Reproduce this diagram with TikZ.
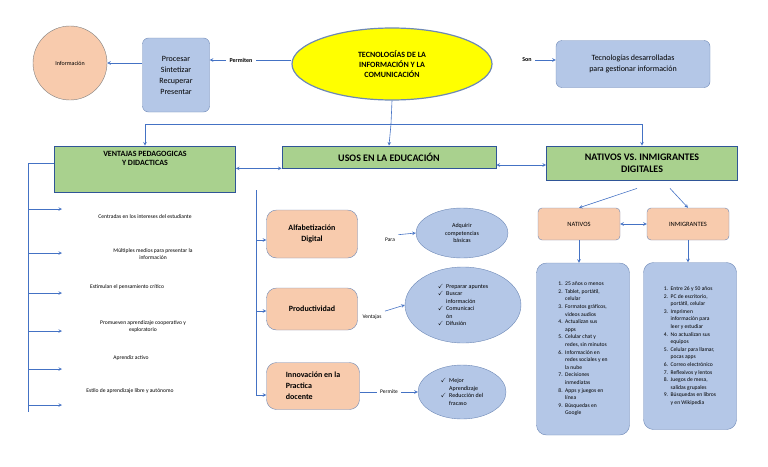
\documentclass[tikz,border=0pt]{standalone}
\usepackage{amssymb}
\usepackage{fontspec}
\setmainfont{Carlito}
\usepackage{tikz}
\usetikzlibrary{shapes.geometric, arrows}
\definecolor{salmon}{HTML}{F8CBAD}
\definecolor{lblue}{HTML}{B4C7E7}
\definecolor{green}{HTML}{A9D18E}
\definecolor{yellow}{HTML}{FFFF00}
\definecolor{line}{HTML}{4472C4}
\definecolor{dblue}{HTML}{2F5597}
\tikzstyle{title} = [rectangle, 
draw=dblue, thick,
fill=green!100,
font=\bfseries\fontsize{8}{9}\selectfont,
align=center]
\tikzstyle{process} = [rectangle, 
rounded corners=6pt,
draw=dblue!70,
fill=lblue!100,
align=center]
\tikzstyle{uso} = [rectangle, 
rounded corners=10pt,
draw=dblue!70,
fill=salmon!100,
font=\bfseries\fontsize{8}{11}\selectfont,
align=center]
\tikzstyle{oval} = [ellipse, 
draw=dblue!70,
fill=lblue!100,
align=left,
inner sep=1pt,
font=\fontsize{6}{7.5}\selectfont]
\tikzstyle{item} = [font=\fontsize{5.6}{7}\selectfont, align=center]
\tikzstyle{lab} = [font=\fontsize{5.5}{6}\selectfont]
\tikzstyle{arrow} = [line, semithick, ->, >=stealth]
\tikzstyle{darrow} = [line, semithick, <->, >=stealth]

\begin{document}
\begin{tikzpicture}[x=1pt, y=-1pt]
\useasboundingbox (0,0) rectangle (768,466);
\node (info) [circle, minimum size=74pt, draw=gray, fill=salmon!100, font=\fontsize{6}{7}\selectfont] at (70,63) {Información};
\node (proc) [process, minimum width=67pt, minimum height=74pt, font=\fontsize{8}{11}\selectfont] at (176,75) {Procesar\\Sintetizar\\Recuperar\\Presentar};
\node (tic) [ellipse, draw=dblue!70, line width=1.2pt, fill=yellow!100, minimum width=200pt, minimum height=72pt, font=\bfseries\fontsize{8}{10}\selectfont, align=center] at (392,64) {TECNOLOGÍAS DE LA\\INFORMACIÓN Y LA\\COMUNICACIÓN};
\node (desa) [process, minimum width=154pt, minimum height=47pt, font=\fontsize{8}{11}\selectfont] at (633,64) {Tecnologías desarrolladas\\para gestionar información};
\node (permiten) [lab, font=\bfseries\fontsize{6}{6}\selectfont] at (241,60) {Permiten};
\node (son) [lab, font=\bfseries\fontsize{6}{6}\selectfont] at (527,60) {Son};
\coordinate (top) at (391,124);

\node (vent) [title, minimum width=181pt, minimum height=46pt, text depth=22pt] at (145,169) {VENTAJAS PEDAGOGICAS\\Y DIDACTICAS};
\node (usos) [title, minimum width=214pt, minimum height=22pt, font=\bfseries\fontsize{10}{11}\selectfont] at (389,157) {USOS EN LA EDUCACIÓN};
\node (nat) [title, minimum width=191pt, minimum height=34pt, font=\bfseries\fontsize{10}{12}\selectfont] at (642,163) {NATIVOS VS. INMIGRANTES\\DIGITALES};

% ventajas
\node (v1) [item] at (145,217) {Centradas en los intereses del estudiante};
\node (v2) [item] at (153,254) {Múltiples medios para presentar la\\información};
\node (v3) [item] at (127,287) {Estimulan el pensamiento crítico};
\node (v4) [item] at (143,327) {Promueven aprendizaje cooperativo y\\exploratorio};
\node (v5) [item] at (131,358) {Aprendiz activo};
\node (v6) [item] at (130,391) {Estilo de aprendizaje libre y autónomo};

% usos
\node (alf) [uso, minimum width=91pt, minimum height=48pt] at (312,234) {Alfabetización\\Digital};
\node (prod) [uso, minimum width=91pt, minimum height=42pt] at (312,309) {Productividad};
\node (inno) [uso, minimum width=93pt, minimum height=47pt, align=left] at (313,386) {Innovación en la\\Practica\\docente};
\node (adq) [oval, align=center, minimum width=92pt, minimum height=50pt] at (462,233) {Adquirir\\competencias\\básicas};
\node (vent2) [oval, minimum width=116pt, minimum height=76pt] at (463,305) {\checkmark\ \ Preparar apuntes\\\checkmark\ \ Buscar\\\phantom{\checkmark\ \ }información\\\checkmark\ \ Comunicaci\\\phantom{\checkmark\ \ }ón\\\checkmark\ \ Difusión};
\node (mejor) [oval, minimum width=88pt, minimum height=54pt] at (462,392) {\checkmark\ \ Mejor\\\phantom{\checkmark\ \ }Aprendizaje\\\checkmark\ \ Reducción del\\\phantom{\checkmark\ \ }fracaso};
\node (para) [lab] at (390,240) {Para};
\node (ventl) [lab] at (372,317) {Ventajas};
\node (permite) [lab] at (389,392) {Permite};

% nativos
\node (nativos) [uso, font=\fontsize{6.5}{7}\selectfont, rounded corners=4pt, minimum width=82pt, minimum height=32pt] at (579,224) {NATIVOS};
\node (inmi) [uso, font=\fontsize{6.5}{7}\selectfont, rounded corners=4pt, minimum width=82pt, minimum height=32pt] at (688,224) {INMIGRANTES};
\node (lnat) [process, rounded corners=10pt, minimum width=93pt, minimum height=172pt, align=left, font=\fontsize{5.6}{7.6}\selectfont] at (583,349) {1.\ \ 25 años o menos\\2.\ \ Tablet, portátil,\\\phantom{2.\ \ }celular\\3.\ \ Formatos gráficos,\\\phantom{2.\ \ }videos audios\\4.\ \ Actualizan sus\\\phantom{2.\ \ }apps\\5.\ \ Celular chat y\\\phantom{2.\ \ }redes, sin minutos\\6.\ \ Información en\\\phantom{2.\ \ }redes sociales y en\\\phantom{2.\ \ }la nube\\7.\ \ Decisiones\\\phantom{2.\ \ }inmediatas\\8.\ \ Apps y juegos en\\\phantom{2.\ \ }línea\\9.\ \ Búsquedas en\\\phantom{2.\ \ }Google};
\node (linm) [process, rounded corners=10pt, minimum width=93pt, minimum height=167pt, align=left, font=\fontsize{5.6}{7.6}\selectfont] at (690,346) {1.\ \ Entre 26 y 50 años\\2.\ \ PC de escritorio,\\\phantom{2.\ \ }portátil, celular\\3.\ \ Imprimen\\\phantom{2.\ \ }información para\\\phantom{2.\ \ }leer y estudiar\\4.\ \ No actualizan sus\\\phantom{2.\ \ }equipos\\5.\ \ Celular para llamar,\\\phantom{2.\ \ }pocas apps\\6.\ \ Correo electrónico\\7.\ \ Reflexivos y lentos\\8.\ \ Juegos de mesa,\\\phantom{2.\ \ }salidas grupales\\9.\ \ Búsquedas en libros\\\phantom{2.\ \ }y en Wikipedia};

\draw [line, semithick] (tic.west |- permiten) -- (permiten.east);
\draw [arrow] (permiten.west) -- (proc.east |- permiten);
\draw [arrow] (proc.west |- info) -- (info.east);
\draw [arrow] (son.east) -- (desa.west |- son);
\draw [line, semithick] (tic.south) -- (top);
\draw [arrow] (top) -- (usos.north);
\draw [line, semithick] (vent.north |- top) -- (nat.north |- top);
\draw [arrow] (vent.north |- top) -- (vent.north);
\draw [arrow] (nat.north |- top) -- (nat.north);
\draw [darrow] (vent.east |- usos.south) -- (usos.south west);
\draw [darrow] (usos.east |- 0,165) -- (nat.west |- 0,165);

\draw [line, semithick] (vent.west |- 0,163) -- (28,163) -- (28,412);
\foreach \v/\y in {v1/209, v2/253, v3/293, v4/331, v5/369, v6/405}
  \draw [arrow] (28,\y) -- (62,\y);

\draw [line, semithick] (256,190) -- (256,395);
\draw [arrow] (256,240) -- (alf.west |- 0,240);
\draw [arrow] (256,311) -- (prod.west |- 0,311);
\draw [arrow] (256,395) -- (inno.west |- 0,395);
\draw [arrow] (para.north east) -- (adq.west);
\draw [arrow] (ventl.north east) -- (vent2.west);
\draw [line, semithick] (inno.east |- permite) -- (permite.west);
\draw [arrow] (permite.east) -- (mejor.west |- permite);

\draw [arrow] (nat.south) ++(-5,8) -- (nativos.north);
\draw [arrow] (nat.south) ++(28,8) -- (inmi.north);
\draw [darrow] (nativos.east) -- (inmi.west);
\draw [arrow] (nativos.south) -- (lnat.north -| nativos.south);
\draw [arrow] (inmi.south) -- (linm.north -| inmi.south);
\end{tikzpicture}
\end{document}
